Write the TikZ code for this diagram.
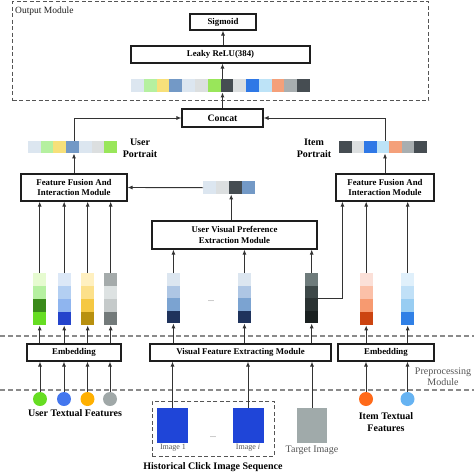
\documentclass[tikz,border=0pt]{standalone}
\usepackage{fontspec}
\setmainfont{Liberation Serif}
\usetikzlibrary{arrows.meta,calc}
\definecolor{boxc}{HTML}{1E1E1E}
\definecolor{linec}{HTML}{333333}
\definecolor{sepc}{HTML}{8A8A8A}
\definecolor{txtg}{HTML}{555555}
\definecolor{lb}{HTML}{DCE6F0}
\definecolor{lg}{HTML}{B5F0A0}
\definecolor{yl}{HTML}{F7E07A}
\definecolor{sb}{HTML}{7399C6}
\definecolor{gyl}{HTML}{DCDFE0}
\definecolor{gr}{HTML}{99E65A}
\definecolor{dk}{HTML}{464D52}
\definecolor{bl}{HTML}{2F78E6}
\definecolor{skyb}{HTML}{BDE3F7}
\definecolor{sa}{HTML}{F4A07A}
\definecolor{gm}{HTML}{A8AEB0}
\definecolor{a1}{HTML}{E6FBD0}\definecolor{a2}{HTML}{B5F0A0}\definecolor{a3}{HTML}{3A8A1A}\definecolor{a4}{HTML}{66DD22}
\definecolor{b1}{HTML}{DCE8F7}\definecolor{b2}{HTML}{B3CFF2}\definecolor{b3}{HTML}{8FB5EF}\definecolor{b4}{HTML}{2444CC}
\definecolor{c1}{HTML}{FFF0C0}\definecolor{c2}{HTML}{FCE08A}\definecolor{c3}{HTML}{F5C842}\definecolor{c4}{HTML}{B8900F}
\definecolor{d1}{HTML}{A5ABAB}\definecolor{d2}{HTML}{DDE2E2}\definecolor{d3}{HTML}{C5CACA}\definecolor{d4}{HTML}{737A7A}
\definecolor{v1}{HTML}{DCE6F0}\definecolor{v2}{HTML}{AEC6E4}\definecolor{v3}{HTML}{7BA3D1}\definecolor{v4}{HTML}{1F335C}
\definecolor{w1}{HTML}{6E7B7B}\definecolor{w2}{HTML}{3D4848}\definecolor{w3}{HTML}{2A3232}\definecolor{w4}{HTML}{1A2020}
\definecolor{e1}{HTML}{FBE0D8}\definecolor{e2}{HTML}{FBC0A8}\definecolor{e3}{HTML}{F79A70}\definecolor{e4}{HTML}{CC4411}
\definecolor{f1}{HTML}{E0F0FB}\definecolor{f2}{HTML}{C0E0F7}\definecolor{f3}{HTML}{98CDF2}\definecolor{f4}{HTML}{3080E6}
\definecolor{cg}{HTML}{66DD22}\definecolor{cb}{HTML}{4477EE}\definecolor{cy}{HTML}{FFB000}\definecolor{cgr}{HTML}{A0A8A8}
\definecolor{co}{HTML}{FF6A1A}\definecolor{cl}{HTML}{66B3F2}
\definecolor{imgb}{HTML}{1F45D8}\definecolor{imgg}{HTML}{A0AAAA}
% horizontal bar: name, left, top, cell w, cell h, n, colours
\newcommand\hbarnode[7]{%
  \node[inner sep=0pt,minimum width={#4*#6},minimum height={#5},anchor=north west] (#1) at (#2,#3) {};
  \foreach \c [count=\i from 0] in {#7}{\fill[color=\c] ({#2+\i*#4},{#3}) rectangle ({#2+(\i+1)*#4},{#3+#5});}}
% vertical bar: name, left, top, w, cell h, n, colours
\newcommand\vbarnode[7]{%
  \node[inner sep=0pt,minimum width={#4},minimum height={#5*#6},anchor=north west] (#1) at (#2,#3) {};
  \foreach \c [count=\i from 0] in {#7}{\fill[color=\c] ({#2},{#3+\i*#5}) rectangle ({#2+#4},{#3+(\i+1)*#5});}}
\tikzset{
  box/.style={draw=boxc,line width=1.1pt,fill=white,inner sep=0pt,align=center,
    font=\fontsize{8.8}{10.2}\selectfont\bfseries},
  arr/.style={draw=linec,line width=0.9pt,-{Latex[length=5pt,width=4pt]}},
  sepline/.style={draw=sepc,line width=1.1pt,dash pattern=on 5pt off 3pt},
  lbl/.style={inner sep=0pt,align=center,font=\fontsize{10}{12}\selectfont\bfseries},
  plain/.style={inner sep=0pt,align=center,font=\fontsize{10}{11.5}\selectfont},
  dot/.style={circle,inner sep=0pt,minimum size=14pt},
  img/.style={inner sep=0pt,minimum width=31pt,minimum height=35pt},
}
\begin{document}
\begin{tikzpicture}[x=1pt,y=-1pt]
\useasboundingbox (0,0) rectangle (474,474);
% module frames and separators
\node[draw=txtg,line width=1.1pt,dash pattern=on 4pt off 2.5pt,inner sep=0pt,
  minimum width=416pt,minimum height=99pt,anchor=north west] (outmod) at (12,1) {};
\node[plain,anchor=west,font=\fontsize{9.5}{11}\selectfont,text=boxc] (outlbl) at (15,11) {Output Module};
\draw[sepline] (0,336) -- (474,336);
\draw[sepline] (0,390) -- (474,390);
% boxes
\node[box,minimum width=66pt,minimum height=16pt] (sigmoid) at (223,22) {Sigmoid};
\node[box,minimum width=179pt,minimum height=17pt] (leaky) at (220.5,54.5) {Leaky ReLU(384)};
\node[box,minimum width=81pt,minimum height=18pt,font=\fontsize{9.8}{11}\selectfont\bfseries] (concat) at (222.5,118) {Concat};
\node[box,minimum width=106pt,minimum height=27pt] (ffimL) at (74,187.5) {Feature Fusion And\\Interaction Module};
\node[box,minimum width=98pt,minimum height=27pt] (ffimR) at (385,187.5) {Feature Fusion And\\Interaction Module};
\node[box,minimum width=165pt,minimum height=28pt] (uvpem) at (234.5,235) {User Visual Preference\\Extraction Module};
\node[box,minimum width=94pt,minimum height=17pt] (embL) at (74,352.5) {Embedding};
\node[box,minimum width=181pt,minimum height=17pt] (vfem) at (240.5,352.5) {Visual Feature Extracting Module};
\node[box,minimum width=96pt,minimum height=17pt] (embR) at (386,352.5) {Embedding};
% bars
\hbarnode{outbar}{131}{79}{12.786}{13}{14}{lb,lg,yl,sb,lb,gyl,gr,dk,gyl,bl,skyb,sa,gm,dk}
\hbarnode{uport}{28}{141}{12.71}{12}{7}{lb,lg,yl,sb,lb,gyl,gr}
\hbarnode{iport}{339}{141}{12.57}{12}{7}{dk,gyl,bl,skyb,sa,gm,dk}
\hbarnode{vpbar}{203}{181}{13}{13}{4}{lb,gyl,dk,sb}
\vbarnode{colA}{33}{273}{13}{13}{4}{a1,a2,a3,a4}
\vbarnode{colB}{57.5}{273}{13}{13}{4}{b1,b2,b3,b4}
\vbarnode{colC}{81}{273}{13}{13}{4}{c1,c2,c3,c4}
\vbarnode{colD}{104}{273}{13}{13}{4}{d1,d2,d3,d4}
\vbarnode{colV}{167}{273}{12.5}{12.5}{4}{v1,v2,v3,v4}
\vbarnode{colW}{238}{273}{12.5}{12.5}{4}{v1,v2,v3,v4}
\vbarnode{colX}{305}{273}{13}{12.5}{4}{w1,w2,w3,w4}
\vbarnode{colE}{359.5}{273}{13}{13}{4}{e1,e2,e3,e4}
\vbarnode{colF}{401}{273}{13}{13}{4}{f1,f2,f3,f4}
\node[inner sep=0pt,font=\fontsize{8}{9}\selectfont,text=txtg] (dots1) at (211,301) {...};
% labels
\node[lbl] (ulbl) at (140,148) {User\\Portrait};
\node[lbl] (ilbl) at (314,148) {Item\\Portrait};
\node[lbl] (utf) at (75,413) {User Textual Features};
\node[lbl] (itf) at (386,422) {Item Textual\\Features};
\node[lbl] (hist) at (213,467) {Historical Click Image Sequence};
\node[plain,text=txtg] (pre) at (443,376.5) {Preprocessing\\Module};
% circles
\node[dot,fill=cg] (uc1) at (40,399) {};
\node[dot,fill=cb] (uc2) at (64,399) {};
\node[dot,fill=cy] (uc3) at (87.5,399) {};
\node[dot,fill=cgr] (uc4) at (110,399) {};
\node[dot,fill=co] (ic1) at (366,399) {};
\node[dot,fill=cl] (ic2) at (407.5,399) {};
% images
\node[draw=txtg,line width=0.9pt,dash pattern=on 4pt off 2.5pt,inner sep=0pt,
  minimum width=122pt,minimum height=55pt,anchor=north west] (histbox) at (152,401) {};
\node[img,fill=imgb] (img1) at (172.5,425.5) {};
\node[img,fill=imgb] (imgi) at (248,425.5) {};
\node[img,minimum width=30pt,fill=imgg] (timg) at (312,425.5) {};
\node[inner sep=0pt,font=\fontsize{8}{9}\selectfont,text=txtg] (dots2) at (213,437) {...};
\node[plain,font=\fontsize{8}{9}\selectfont,text=txtg] (l1) at (173,448) {Image 1};
\node[plain,font=\fontsize{8}{9}\selectfont,text=txtg] (li) at (248,448) {Image \textit{i}};
\node[plain,text=txtg] (lt) at (312,450) {Target Image};
% connectors: output part
\draw[arr] (sigmoid.south |- leaky.north) -- (sigmoid.south);
\draw[arr] (concat.north |- outbar.north) -- (concat.north |- leaky.south);
\draw[arr] (concat.north) -- (concat.north |- outbar.south);
\draw[arr] (ffimL.north |- uport.north) |- (concat.west);
\draw[arr] (ffimR.north |- iport.north) |- (concat.east);
\draw[arr] (ffimL.north) -- (ffimL.north |- uport.south);
\draw[arr] (ffimR.north) -- (ffimR.north |- iport.south);
\draw[arr] ([xshift=2pt]vpbar.south |- uvpem.north) -- ([xshift=2pt]vpbar.south);
\draw[arr] (vpbar.west) -- (ffimL.east);
% columns to modules
\foreach \n in {colA,colB,colC,colD}{\draw[arr] (\n.north) -- (\n.north |- ffimL.south);}
\foreach \n in {colV,colW,colX}{\draw[arr] (\n.north) -- (\n.north |- uvpem.south);}
\foreach \n in {colE,colF}{\draw[arr] (\n.north) -- (\n.north |- ffimR.south);}
\draw[arr] (colX.east) -| ([xshift=7pt]ffimR.south west);
% embeddings to columns
\foreach \n in {colA,colB,colC,colD}{\draw[arr] (\n.south |- embL.north) -- (\n.south);}
\foreach \n in {colV,colW,colX}{\draw[arr] (\n.south |- vfem.north) -- (\n.south);}
\foreach \n in {colE,colF}{\draw[arr] (\n.south |- embR.north) -- (\n.south);}
% inputs
\foreach \n in {uc1,uc2,uc3,uc4}{\draw[arr] (\n.north) -- (\n.north |- embL.south);}
\foreach \n in {ic1,ic2}{\draw[arr] (\n.north) -- (\n.north |- embR.south);}
\foreach \n in {img1,imgi,timg}{\draw[arr] (\n.north) -- (\n.north |- vfem.south);}
\end{tikzpicture}
\end{document}
